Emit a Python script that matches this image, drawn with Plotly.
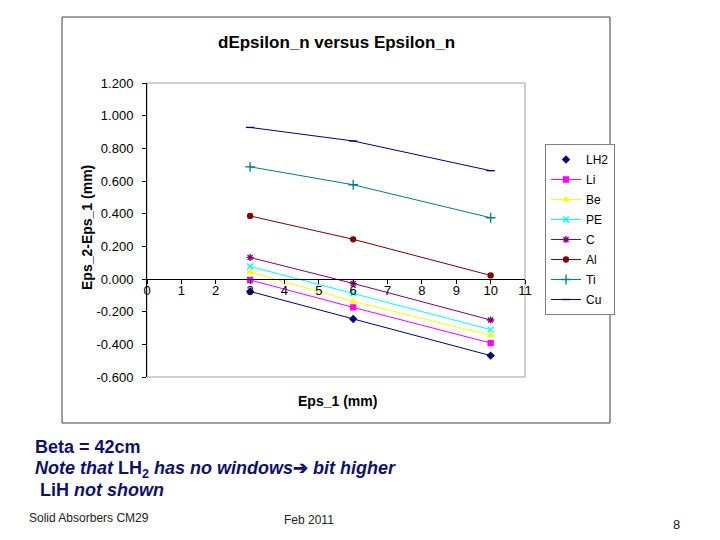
import plotly.graph_objects as go

eps1 = [3, 6, 10]
series_names = ["LH2", "Li", "Be", "PE", "C", "Al", "Ti", "Cu"]
lh2 = [-0.076, -0.245, -0.469]
li = [-0.006, -0.174, -0.392]
be = [0.043, -0.137, -0.345]
pe = [0.077, -0.088, -0.310]
c = [0.132, -0.027, -0.251]
al = [0.386, 0.243, 0.022]
ti = [0.687, 0.577, 0.375]
cu = [0.928, 0.845, 0.663]
x_ticks = list(range(0, 12))
y_ticks = [-0.6, -0.4, -0.2, 0.0, 0.2, 0.4, 0.6, 0.8, 1.0, 1.2]

FONT = "Liberation Sans, Arial, sans-serif"
W, H = 720, 540

def px(x):
    return x / W

def py(y):
    return 1 - y / H

styles = [
    ("LH2", lh2, "#000080", "diamond", 5, "markers"),
    ("Li", li, "#FF00FF", "square", 5, "lines+markers"),
    ("Be", be, "#FFFF00", "triangle-up", 5, "lines+markers"),
    ("PE", pe, "#00FFFF", "x-thin", 6, "lines+markers"),
    ("C", c, "#800080", "asterisk", 6, "lines+markers"),
    ("Al", al, "#800000", "circle", 5, "lines+markers"),
    ("Ti", ti, "#008080", "cross-thin", 7, "lines+markers"),
    ("Cu", cu, "#000080", "line-ew", 6, "lines+markers"),
]

fig = go.Figure()
# connecting line for LH2 (not in legend)
fig.add_trace(go.Scatter(x=eps1, y=lh2, mode="lines", line=dict(color="#000080", width=1),
                         showlegend=False, hoverinfo="skip", legendgroup="LH2"))
for name, vals, col, sym, size, mode in styles:
    fig.add_trace(go.Scatter(
        x=eps1, y=vals, mode=mode, name=name, legendgroup=name,
        line=dict(color=col, width=1),
        marker=dict(symbol=sym, size=size, color=col, line=dict(color=col, width=1.3)),
    ))

x0, x1 = px(147), px(525)
y0, y1 = py(377), py(83)
zero_pos = y0 + (0 - (-0.6)) / 1.8 * (y1 - y0)

fig.update_layout(
    width=W, height=H,
    margin=dict(l=0, r=0, t=0, b=0, autoexpand=False),
    paper_bgcolor="white", plot_bgcolor="white",
    font=dict(family=FONT, color="black", size=12),
    showlegend=True,
    legend=dict(x=px(545), y=py(144), xanchor="left", yanchor="top",
                bgcolor="white", bordercolor="#808080", borderwidth=1,
                font=dict(size=12, family=FONT), itemwidth=30, tracegroupgap=1),
    xaxis=dict(domain=[x0, x1], range=[0, 11], tickvals=x_ticks, ticktext=[str(t) for t in x_ticks],
               anchor="free", position=zero_pos, showline=True, linecolor="black", linewidth=1,
               ticks="outside", ticklen=4, tickcolor="black", showgrid=False, zeroline=False,
               ticklabelstandoff=-5, tickfont=dict(size=13), automargin=False),
    yaxis=dict(domain=[y0, y1], range=[-0.6, 1.2], tickvals=y_ticks,
               ticktext=[f"{v:.3f}" for v in y_ticks], showline=True, linecolor="black", linewidth=1,
               ticks="outside", ticklen=4, tickcolor="black", showgrid=False, zeroline=False,
               ticklabelstandoff=6, tickfont=dict(size=13), automargin=False),
)

shapes = [
    dict(type="rect", xref="x domain", yref="y domain", x0=0, x1=1, y0=0, y1=1,
         line=dict(color="#A0A0A0", width=1), layer="below"),
    dict(type="rect", xref="paper", yref="paper", x0=px(62), x1=px(610), y0=py(423), y1=py(17),
         line=dict(color="#404040", width=1)),
]
fig.update_layout(shapes=shapes)

navy = "#10106A"
anns = [
    dict(text="<b>dEpsilon_n versus Epsilon_n</b>", x=px(336), y=py(43), font=dict(size=17)),
    dict(text="<b>Eps_2-Eps_1 (mm)</b>", x=px(87), y=py(228), textangle=-90, font=dict(size=14)),
    dict(text="<b>Eps_1 (mm)</b>", x=px(337), y=py(401), font=dict(size=14)),
    dict(text="<b>Beta = 42cm</b>", x=px(33), y=py(447), xanchor="left", font=dict(size=18, color=navy)),
    dict(text="<b><i>Note that </i>LH<sub>2</sub><i> has no windows</i>➔<i> bit higher</i></b>",
         x=px(33), y=py(469), xanchor="left", font=dict(size=18, color=navy)),
    dict(text="<b> LiH <i>not shown</i></b>", x=px(33), y=py(490), xanchor="left",
         font=dict(size=18, color=navy)),
    dict(text="Solid Absorbers CM29", x=px(27), y=py(518), xanchor="left", font=dict(size=12, color="#222222")),
    dict(text="Feb 2011", x=px(309), y=py(520), font=dict(size=12, color="#222222")),
    dict(text="8", x=px(676), y=py(524), font=dict(size=13, color="#222222")),
]
for a in anns:
    a.setdefault("xanchor", "center")
    a.update(xref="paper", yref="paper", showarrow=False, yanchor="middle")
    a["font"].setdefault("family", FONT)
    a["font"].setdefault("color", "black")
    fig.add_annotation(**a)

fig.write_html("out.html")
